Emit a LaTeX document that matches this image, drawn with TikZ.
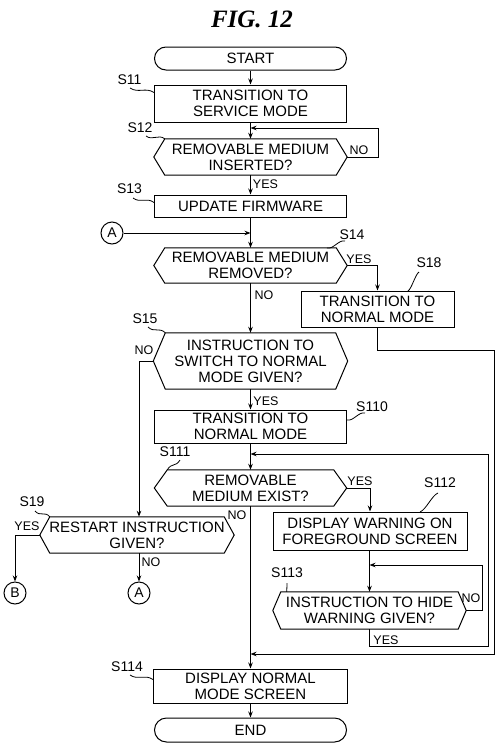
\documentclass[tikz,border=0pt]{standalone}
\usepackage{fontspec}
\setmainfont{Liberation Sans}
\newfontfamily\titlefont{Liberation Serif}
\usetikzlibrary{arrows.meta,calc}
\newcommand\hexframe[2]{%
  \draw[line width=1pt] (#1.west) -- ([xshift=#2pt]#1.north west) -- ([xshift=-#2pt]#1.north east) -- (#1.east) -- ([xshift=-#2pt]#1.south east) -- ([xshift=#2pt]#1.south west) -- cycle;}
\newcommand\wave[2]{%
  \draw[leader] (#1) .. controls ($(#1)!0.35!(#2)+(0,4)$) and ($(#1)!0.65!(#2)+(0,-4)$) .. (#2);}
\begin{document}
\begin{tikzpicture}[x=1pt,y=-1pt,
  every node/.style={font=\fontsize{15}{16}\selectfont, inner sep=0pt},
  proc/.style={draw, line width=1pt, rectangle, align=center},
  term/.style={draw, line width=1pt, rectangle, rounded corners=11.5pt, minimum width=192pt, minimum height=23pt},
  dec/.style={rectangle, align=center},
  conn/.style={draw, circle, line width=1pt, minimum size=22pt, font=\fontsize{14}{14}\selectfont},
  lbl/.style={font=\fontsize{14}{14}\selectfont},
  yn/.style={font=\fontsize{12.5}{12.5}\selectfont},
  flow/.style={line width=1pt, -{Stealth[length=6pt,width=4.5pt]}},
  leader/.style={line width=0.8pt},
]
\useasboundingbox (0,0) rectangle (500,750);

\node[font={\titlefont\bfseries\itshape\fontsize{25}{25}\selectfont}] (title) at (252,19) {FIG. 12};

% shapes
\node[term] (start) at (250.5,58.5) {START};
\node[proc, minimum width=192pt, minimum height=37pt] (s11) at (250.5,103.5) {TRANSITION TO\\SERVICE MODE};
\node[dec, minimum width=193pt, minimum height=36pt] (s12) at (250.5,157) {REMOVABLE MEDIUM\\INSERTED?};
\hexframe{s12}{11}
\node[proc, minimum width=192pt, minimum height=22pt] (s13) at (250.5,206) {UPDATE FIRMWARE};
\node[conn] (a1) at (112,233) {A};
\node[dec, minimum width=193pt, minimum height=35pt] (s14) at (250.5,265.5) {REMOVABLE MEDIUM\\REMOVED?};
\hexframe{s14}{11}
\node[proc, minimum width=153pt, minimum height=36pt] (s18) at (377.5,309) {TRANSITION TO\\NORMAL MODE};
\node[dec, minimum width=194pt, minimum height=56pt] (s15) at (250.5,361) {INSTRUCTION TO\\SWITCH TO NORMAL\\MODE GIVEN?};
\hexframe{s15}{12}
\node[proc, minimum width=192pt, minimum height=33pt] (s110) at (250.5,426.5) {TRANSITION TO\\NORMAL MODE};
\node[dec, minimum width=192pt, minimum height=36pt] (s111) at (250.5,488) {REMOVABLE\\MEDIUM EXIST?};
\hexframe{s111}{13}
\node[proc, minimum width=194pt, minimum height=38pt] (s112) at (370,531) {DISPLAY WARNING ON\\FOREGROUND SCREEN};
\node[dec, minimum width=193pt, minimum height=37pt] (s113) at (369.5,610.5) {INSTRUCTION TO HIDE\\WARNING GIVEN?};
\hexframe{s113}{8}
\node[dec, minimum width=194pt, minimum height=36pt] (s19) at (137,535) {RESTART INSTRUCTION\\GIVEN?};
\hexframe{s19}{10}
\node[conn] (b) at (15,593) {B};
\node[conn] (a2) at (139,593) {A};
\node[proc, minimum width=194pt, minimum height=34pt] (s114) at (250.5,686) {DISPLAY NORMAL\\MODE SCREEN};
\node[term, rounded corners=12pt, minimum height=24pt] (end) at (250.5,730) {END};

% step labels
\node[lbl] (l11) at (129.5,80) {S11};
\node[lbl] (l12) at (140,127.5) {S12};
\node[lbl] (l13) at (129.5,189) {S13};
\node[lbl] (l14) at (352,235) {S14};
\node[lbl] (l18) at (429,263) {S18};
\node[lbl] (l15) at (145,318.5) {S15};
\node[lbl] (l110) at (372,407) {S110};
\node[lbl] (l111) at (175,452) {S111};
\node[lbl] (l112) at (440,482.5) {S112};
\node[lbl] (l113) at (287,573) {S113};
\node[lbl] (l19) at (32,502) {S19};
\node[lbl] (l114) at (127,667) {S114};

% leaders
\coordinate (w11) at (130,88);   \wave{w11}{[yshift=-8pt]s11.north west}
\coordinate (w12) at (146,136);  \wave{w12}{[xshift=11pt]s12.north west}
\coordinate (w13) at (133,198);  \wave{w13}{[yshift=-8pt]s13.north west}
\coordinate (w14) at (327,248);  \wave{w14}{345,241}
\coordinate (w18) at (408,291);  \wave{w18}{419,272}
\coordinate (w15) at (148,327);  \wave{w15}{[xshift=12pt]s15.north west}
\coordinate (w110) at (347,420); \wave{w110}{365,413}
\coordinate (w111) at (180,460); \wave{w111}{[xshift=13pt]s111.north west}
\coordinate (w112) at (420,512); \wave{w112}{438,493}
\coordinate (w113) at (287,583); \wave{w113}{[xshift=14pt]s113.north west}
\coordinate (w19) at (35,511);   \wave{w19}{[xshift=10pt]s19.north west}
\coordinate (w114) at (130,675); \wave{w114}{[yshift=-11pt]s114.north west}

% connectors
\draw[flow] (start) -- (s11);
\draw[flow] (s11) -- (s12);
\coordinate (l12a) at (378,128);
\draw[flow] (s12.east) -| (l12a) -- (l12a -| s12.north);
\node[yn] (n12) at (359,150.5) {NO};
\draw[flow] (s12) -- (s13);
\node[yn] (y12) at (265.5,184) {YES};
\draw[flow] (s13) -- (s14);
\draw[flow] (a1) -- (a1 -| s14.north);
\draw[flow] (s14.east) -| (s18.north);
\node[yn] (y14) at (359,259) {YES};
\draw[flow] (s14) -- (s15);
\node[yn] (n14) at (264,295) {NO};
\coordinate (r18) at (494,350);
\coordinate (r18b) at (494,654);
\draw[flow] (s18.south) |- (r18) -- (r18b) -- (r18b -| s114.north);
\draw[flow] (s15.west) -| ([xshift=2pt]s19.north);
\node[yn] (n15) at (144,350.5) {NO};
\draw[flow] (s15) -- (s110);
\node[yn] (y15) at (266,401) {YES};
\draw[flow] (s110) -- (s111);
\draw[flow] (s111.east) -| (s112.north);
\node[yn] (y111) at (360,481.5) {YES};
\draw[flow] (s111) -- (s114);
\node[yn] (n111) at (237,515) {NO};
\draw[flow] (s112.south -| s113.north) -- (s113.north);
\coordinate (l113a) at (482,565);
\draw[flow] (s113.east) -| (l113a) -- (l113a -| s113.north);
\node[yn] (n113) at (471,598) {NO};
\coordinate (r113) at (488,646);
\coordinate (r113t) at (488,454);
\draw[flow] (s113.south) |- (r113) -- (r113t) -- (r113t -| s111.north);
\node[yn] (y113) at (386,640) {YES};
\draw[flow] (s19.west) -| (b.north);
\node[yn] (y19) at (27,526.5) {YES};
\draw[flow] ([xshift=2pt]s19.south) -- (a2.north);
\node[yn] (n19) at (151,562) {NO};
\draw[flow] (s114) -- (end);
\end{tikzpicture}
\end{document}
